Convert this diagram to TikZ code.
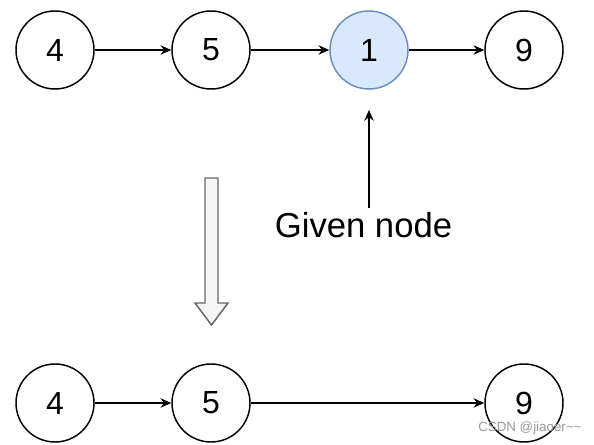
\documentclass[tikz,border=0pt]{standalone}
\usepackage{fontspec}
\setmainfont{Liberation Sans}
\usetikzlibrary{arrows.meta}
\definecolor{hlfill}{HTML}{DAE8FC}
\definecolor{hldraw}{HTML}{6C8EBF}
\definecolor{hafill}{HTML}{F5F5F5}
\definecolor{hadraw}{HTML}{666666}
\tikzset{
  lnode/.style={circle,draw=black,line width=1.1pt,fill=white,minimum size=58.5pt,inner sep=0pt,font=\fontsize{24}{27}\selectfont},
  hlnode/.style={lnode,draw=hldraw,fill=hlfill},
  link/.style={line width=1.1pt,-{Stealth[length=8pt,width=7pt]}},
}
\begin{document}
\begin{tikzpicture}[x=0.75pt,y=-0.75pt]
\useasboundingbox (0,0) rectangle (594,445);
% top row
\node[lnode] (a4) at (55,50) {4};
\node[lnode] (a5) at (211,50) {5};
\node[hlnode] (a1) at (369,50) {1};
\node[lnode] (a9) at (524,50) {9};
\draw[link] (a4) -- (a5);
\draw[link] (a5) -- (a1);
\draw[link] (a1) -- (a9);
% given node label
\node[font=\fontsize{26}{29}\selectfont,anchor=base] (given) at (363.5,238) {Given node};
\coordinate (gtail) at (369,208);
\coordinate (gtip) at (369,110);
\draw[link] (gtail) -- (gtip);
% hollow arrow
\draw[draw=hadraw,fill=hafill,line width=1.1pt,line join=miter]
  (205,178) -- (218,178) -- (218,303) -- (228,303) -- (211.5,325) -- (195,303) -- (205,303) -- cycle;
% bottom row
\node[lnode] (b4) at (55,403) {4};
\node[lnode] (b5) at (211,403) {5};
\node[lnode] (b9) at (524,403) {9};
\draw[link] (b4) -- (b5);
\draw[link] (b5) -- (b9);
% watermark
\node[font=\fontsize{10}{12}\selectfont,text=black!40,anchor=base west,inner sep=0pt] (wm) at (478,432) {CSDN @jiaoer\textasciitilde\textasciitilde};
\end{tikzpicture}
\end{document}
